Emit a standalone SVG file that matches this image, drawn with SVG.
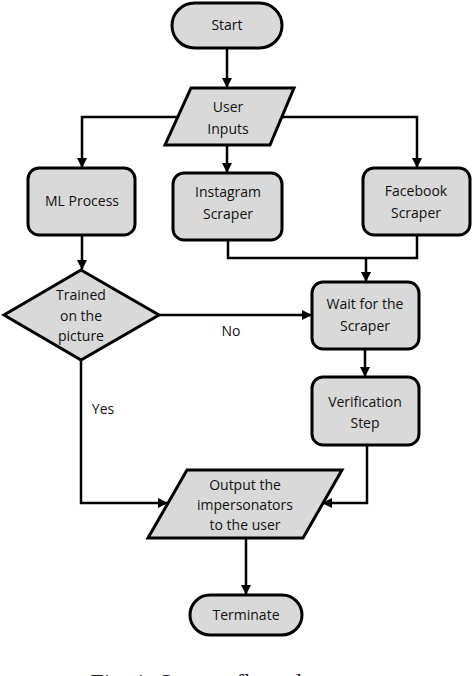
<svg xmlns="http://www.w3.org/2000/svg" width="474" height="676" viewBox="0 0 474 676">
<defs>
<style>
.n{fill:#d9d9d9;stroke:#000;stroke-width:3}
.t{font-family:"Open Sans","Noto Sans",sans-serif;font-size:14px;fill:#111;text-anchor:middle}
.c{fill:none;stroke:#000;stroke-width:2.5}
.cap{font-family:"Liberation Serif",serif;font-size:24px;fill:#222;text-anchor:middle}
</style>
<marker id="a" viewBox="0 0 10 10" refX="9" refY="5" markerWidth="4" markerHeight="4" orient="auto" markerUnits="strokeWidth">
<path d="M0,0 L10,5 L0,10 z" fill="#000"/>
</marker>
</defs>
<rect width="474" height="676" fill="#fff"/>
<g id="connectors">
<path class="c" d="M227,48 V87" marker-end="url(#a)"/>
<path class="c" d="M178,117 H82 V167" marker-end="url(#a)"/>
<path class="c" d="M280,117 H417 V167" marker-end="url(#a)"/>
<path class="c" d="M227,145 V172" marker-end="url(#a)"/>
<path class="c" d="M82,235 V269" marker-end="url(#a)"/>
<path class="c" d="M228,240 V258 H417 V235"/>
<path class="c" d="M366,258 V281" marker-end="url(#a)"/>
<path class="c" d="M159,315 H311" marker-end="url(#a)"/>
<path class="c" d="M365,349 V376" marker-end="url(#a)"/>
<path class="c" d="M81,360 V503 H167" marker-end="url(#a)"/>
<path class="c" d="M367,445 V503 H323" marker-end="url(#a)"/>
<path class="c" d="M246,538 V594" marker-end="url(#a)"/>
</g>
<g id="start">
<rect class="n" x="172" y="3" width="110" height="45" rx="22.5"/>
<text class="t" x="227" y="30">Start</text>
</g>
<g id="user-inputs">
<polygon class="n" points="191,88 294,88 270,145 165,145"/>
<text class="t" x="228" y="112">User</text>
<text class="t" x="228" y="134">Inputs</text>
</g>
<g id="ml-process">
<rect class="n" x="28" y="168" width="107" height="67" rx="11"/>
<text class="t" x="82" y="206">ML Process</text>
</g>
<g id="instagram-scraper">
<rect class="n" x="173" y="173" width="109" height="67" rx="11"/>
<text class="t" x="228" y="197">Instagram</text>
<text class="t" x="228" y="219">Scraper</text>
</g>
<g id="facebook-scraper">
<rect class="n" x="363" y="168" width="107" height="67" rx="11"/>
<text class="t" x="416" y="196">Facebook</text>
<text class="t" x="416" y="218">Scraper</text>
</g>
<g id="trained">
<polygon class="n" points="81,270 159,315 81,360 4,315"/>
<text class="t" x="81" y="300">Trained</text>
<text class="t" x="81" y="321">on the</text>
<text class="t" x="81" y="341">picture</text>
</g>
<g id="labels">
<text class="t" x="231" y="336">No</text>
<text class="t" x="103" y="414">Yes</text>
</g>
<g id="wait">
<rect class="n" x="312" y="282" width="107" height="67" rx="11"/>
<text class="t" x="365" y="309">Wait for the</text>
<text class="t" x="365" y="331">Scraper</text>
</g>
<g id="verification">
<rect class="n" x="312" y="377" width="107" height="68" rx="11"/>
<text class="t" x="365" y="407">Verification</text>
<text class="t" x="365" y="428">Step</text>
</g>
<g id="output">
<polygon class="n" points="187,470 342,470 303,538 148,538"/>
<text class="t" x="245" y="490">Output the</text>
<text class="t" x="245" y="510">impersonators</text>
<text class="t" x="245" y="530">to the user</text>
</g>
<g id="terminate">
<rect class="n" x="190" y="595" width="112" height="40" rx="20"/>
<text class="t" x="246" y="620">Terminate</text>
</g>
<text class="cap" x="212" y="690">Fig. 1: System flow chart</text>
</svg>
